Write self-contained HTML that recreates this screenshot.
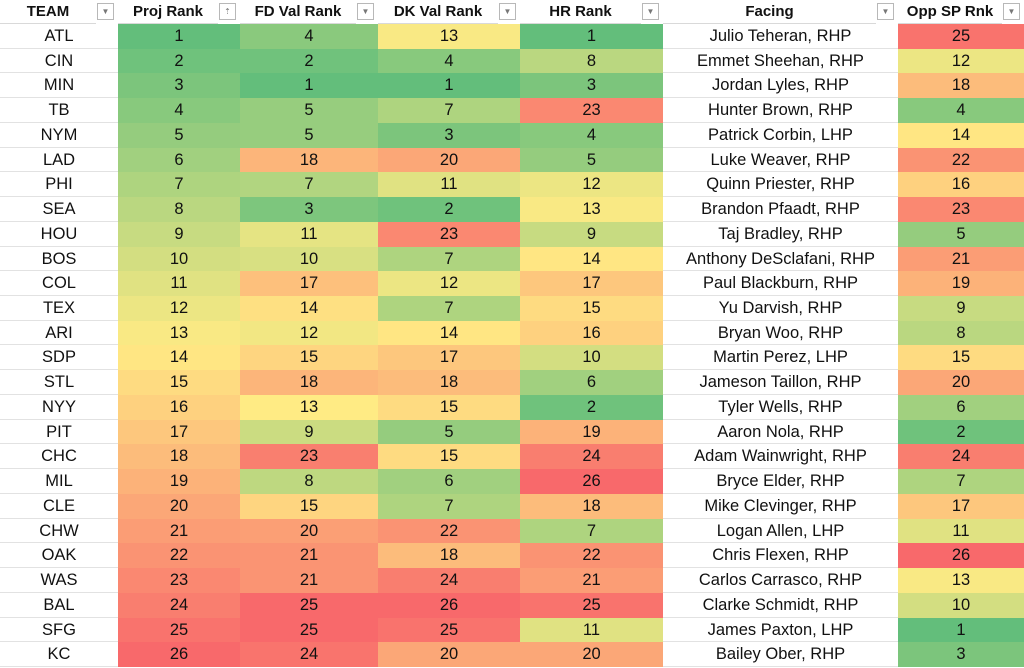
<!DOCTYPE html>
<html><head><meta charset="utf-8">
<style>
html,body{margin:0;padding:0;background:#fff;width:1024px;height:668px;overflow:hidden;font-family:"Liberation Sans",sans-serif;}
#t{position:absolute;left:0;top:0;}
.c{position:absolute;box-sizing:border-box;text-align:center;font-size:16.5px;color:#111;}
.h{font-weight:bold;font-size:15px;}
.dd{position:absolute;width:17px;height:17px;border:1px solid #b8b8b8;box-sizing:border-box;background:#fff;font-size:8px;color:#777;line-height:15px;text-align:center;}
</style></head><body>
<div id="t"></div>
<script>
const teams=["ATL","CIN","MIN","TB","NYM","LAD","PHI","SEA","HOU","BOS","COL","TEX","ARI","SDP","STL","NYY","PIT","CHC","MIL","CLE","CHW","OAK","WAS","BAL","SFG","KC"];
const projRank=[1,2,3,4,5,6,7,8,9,10,11,12,13,14,15,16,17,18,19,20,21,22,23,24,25,26];
const fdValRank=[4,2,1,5,5,18,7,3,11,10,17,14,12,15,18,13,9,23,8,15,20,21,21,25,25,24];
const dkValRank=[13,4,1,7,3,20,11,2,23,7,12,7,14,17,18,15,5,15,6,7,22,18,24,26,25,20];
const hrRank=[1,8,3,23,4,5,12,13,9,14,17,15,16,10,6,2,19,24,26,18,7,22,21,25,11,20];
const facing=["Julio Teheran, RHP","Emmet Sheehan, RHP","Jordan Lyles, RHP","Hunter Brown, RHP","Patrick Corbin, LHP","Luke Weaver, RHP","Quinn Priester, RHP","Brandon Pfaadt, RHP","Taj Bradley, RHP","Anthony DeSclafani, RHP","Paul Blackburn, RHP","Yu Darvish, RHP","Bryan Woo, RHP","Martin Perez, LHP","Jameson Taillon, RHP","Tyler Wells, RHP","Aaron Nola, RHP","Adam Wainwright, RHP","Bryce Elder, RHP","Mike Clevinger, RHP","Logan Allen, LHP","Chris Flexen, RHP","Carlos Carrasco, RHP","Clarke Schmidt, RHP","James Paxton, LHP","Bailey Ober, RHP"];
const oppSpRank=[25,12,18,4,14,22,16,23,5,21,19,9,8,15,20,6,2,24,7,17,11,26,13,10,1,3];
const headers=["TEAM","Proj Rank","FD Val Rank","DK Val Rank","HR Rank","Facing","Opp SP Rnk"];
const cols=[[0,118],[118,240],[240,378],[378,520],[520,663],[663,898],[898,1024]];
const data=[teams,projRank,fdValRank,dkValRank,hrRank,facing,oppSpRank];
const scaled=[false,true,true,true,true,false,true];
const names=["team","proj-rank","fd-val-rank","dk-val-rank","hr-rank","facing","opp-sp-rank"];
const t=document.getElementById('t');
const G=[99,190,123],Y=[255,235,132],R=[248,105,107];
function mix(a,b,f){return 'rgb('+a.map((v,i)=>Math.round(v+(b[i]-v)*f)).join(',')+')';}
function color(v,arr){const mn=Math.min(...arr),mx=Math.max(...arr),md=(mn+mx)/2;return v<=md?mix(G,Y,(v-mn)/(md-mn)):mix(Y,R,(v-md)/(mx-md));}
const H0=24,RH=24.73;
headers.forEach((h,i)=>{
  const [x0,x1]=cols[i];
  const d=document.createElement('div');d.className='c h';
  d.style.cssText+=`left:${x0}px;width:${x1-x0-22}px;top:0;height:${H0}px;line-height:${H0}px;border-bottom:1px solid #d9d9d9;`;
  d.textContent=h;
  
  
  t.appendChild(d);
  const b=document.createElement('div');b.className='dd';
  b.style.left=(x1-21)+'px';b.style.top='3px';
  b.textContent=i==1?'⇡':'▼';
  
  
  t.appendChild(b);
});
for(let r=0;r<teams.length;r++){
  const y0=Math.round(H0+r*RH),y1=Math.round(H0+(r+1)*RH);
  for(let i=0;i<cols.length;i++){
    const [x0,x1]=cols[i];
    const d=document.createElement('div');d.className='c';
    let css=`left:${x0}px;width:${x1-x0}px;top:${y0}px;height:${y1-y0}px;line-height:${y1-y0}px;`;
    if(scaled[i]) css+=`background:${color(data[i][r],data[i])};`;
    else css+='border-bottom:1px solid #e2e2e2;';
    d.style.cssText+=css;
    d.textContent=data[i][r];
    
    
    t.appendChild(d);
  }
}
</script>
</body></html>
